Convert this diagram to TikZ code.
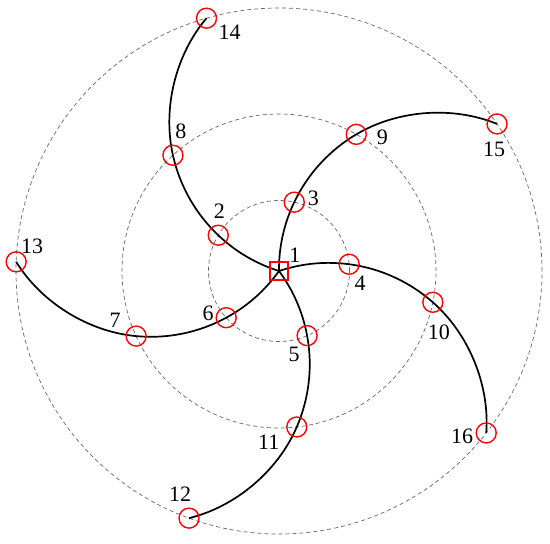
\documentclass[tikz,border=0pt]{standalone}
\usepackage{fontspec}
\setmainfont{Liberation Serif}
\usepackage{tikz}
\usetikzlibrary{calc,backgrounds}

\begin{document}
\begin{tikzpicture}[x=1pt, y=1pt,
	bus/.style={circle, draw=red, line width=1.4pt, minimum size=20pt, inner sep=0pt},
	root/.style={rectangle, draw=red, line width=1.4pt, minimum size=18pt, inner sep=0pt},
	ring/.style={draw=gray!80!black, line width=0.7pt, dash pattern=on 4pt off 3pt},
	feeder/.style={line width=1.7pt, looseness=0.87},
	num/.style={inner sep=0pt, font=\fontsize{22}{26}\selectfont}]
	\useasboundingbox (-279,-273) rectangle (271,271);
	\node[root] (n1)  at (0,0) {};
	% first ring
	\node[bus] (n3)  at (77.5:70.5) {};
	\node[bus] (n2)  at (149.5:70.5) {};
	\node[bus] (n6)  at (221.5:70.5) {};
	\node[bus] (n5)  at (293.5:70.5) {};
	\node[bus] (n4)  at (5.5:70.5) {};
	% second ring
	\node[bus] (n9)  at (60.5:157) {};
	\node[bus] (n8)  at (132.5:157) {};
	\node[bus] (n7)  at (204.5:157) {};
	\node[bus] (n11) at (276.5:157) {};
	\node[bus] (n10) at (348.5:157) {};
	% third ring
	\node[bus] (n15) at (34:263) {};
	\node[bus] (n14) at (106:263) {};
	\node[bus] (n13) at (178:263) {};
	\node[bus] (n12) at (250:263) {};
	\node[bus] (n16) at (322:263) {};
	% numbers
	\node[num] (l1)  at ($(n1)+(16,16)$) {1};
	\node[num] (l2)  at ($(n2)+(1,24)$) {2};
	\node[num] (l3)  at ($(n3)+(19,4)$) {3};
	\node[num] (l4)  at ($(n4)+(11,-19)$) {4};
	\node[num] (l5)  at ($(n5)+(-13,-19)$) {5};
	\node[num] (l6)  at ($(n6)+(-18,4)$) {6};
	\node[num] (l7)  at ($(n7)+(-21,16)$) {7};
	\node[num] (l8)  at ($(n8)+(8,24)$) {8};
	\node[num] (l9)  at ($(n9)+(26,-3)$) {9};
	\node[num] (l10) at ($(n10)+(6,-30)$) {10};
	\node[num] (l11) at ($(n11)+(-28,-15)$) {11};
	\node[num] (l12) at ($(n12)+(-9,24)$) {12};
	\node[num] (l13) at ($(n13)+(16,15)$) {13};
	\node[num] (l14) at ($(n14)+(23,-14)$) {14};
	\node[num] (l15) at ($(n15)+(-3,-25)$) {15};
	\node[num] (l16) at ($(n16)+(-24,-3)$) {16};
	\begin{scope}[on background layer]
	\draw[ring] (n1) circle (70.5);
	\draw[ring] (n1) circle (157);
	\draw[ring] (n1) circle (263);
	\draw[feeder] (n1.center) to[bend left=13] (n3.center) to[bend left=17] (n9.center) to[bend left=26.5] (n15.center);
	\draw[feeder] (n1.center) to[bend left=13] (n2.center) to[bend left=17] (n8.center) to[bend left=26.5] (n14.center);
	\draw[feeder] (n1.center) to[bend left=13] (n6.center) to[bend left=17] (n7.center) to[bend left=26.5] (n13.center);
	\draw[feeder] (n1.center) to[bend left=13] (n5.center) to[bend left=17] (n11.center) to[bend left=26.5] (n12.center);
	\draw[feeder] (n1.center) to[bend left=13] (n4.center) to[bend left=17] (n10.center) to[bend left=26.5] (n16.center);
	\end{scope}
\end{tikzpicture}
\end{document}
